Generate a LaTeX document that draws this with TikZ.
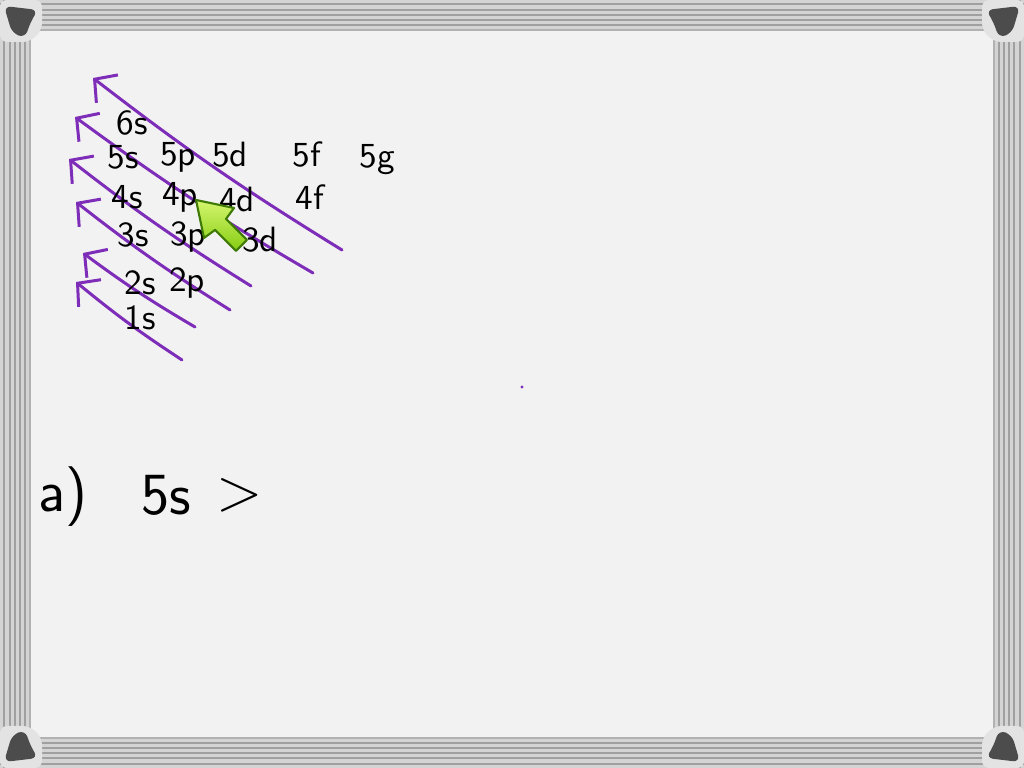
\documentclass[tikz,border=0pt]{standalone}
\usepackage[HTML]{xcolor}
\usetikzlibrary{arrows.meta}

\definecolor{ink}{HTML}{7E2DB8}
\definecolor{board}{HTML}{F2F2F2}
\definecolor{rail}{HTML}{D4D4D4}
\definecolor{groove}{HTML}{A0A0A0}
\definecolor{knob}{HTML}{4C4C4C}
\definecolor{limetop}{HTML}{D4F66E}
\definecolor{limebot}{HTML}{86CC12}
\definecolor{limedark}{HTML}{3F7A06}

\begin{document}
\begin{tikzpicture}[x=0.01cm, y=-0.01cm,
  orb/.style={font=\sffamily\fontsize{10}{12}\selectfont, inner sep=0pt},
  big/.style={font=\sffamily\fontsize{17}{20}\selectfont, inner sep=0pt},
  trail/.style={ink, line width=0.85pt, line cap=round, -{Straight Barb[length=4.5pt, width=10pt]}},
  stripe/.style={groove, line width=0.5pt}]
\useasboundingbox (0,0) rectangle (1024,768);

% frame with grooves
\fill[rail] (0,0) rectangle (1024,768);
\foreach \d in {4,10,15,20,25} {
  \draw[stripe] (0,\d) -- (1024,\d);
  \draw[stripe] (0,768-\d) -- (1024,768-\d);
  \draw[stripe] (\d,0) -- (\d,768);
  \draw[stripe] (1024-\d,0) -- (1024-\d,768);
}
\fill[board] (30,30) rectangle (994,738);
\draw[gray!60, line width=0.4pt] (30,30) rectangle (994,738);

% corner pieces
\foreach \sx/\sy/\dx/\dy in {1/1/0/0, -1/1/1024/0, 1/-1/0/768, -1/-1/1024/768} {
  \begin{scope}[shift={(\dx,\dy)}, xscale=\sx, yscale=\sy]
    \fill[gray!22, rounded corners=2pt] (0,0) -- (42,0) -- (42,30) -- (30,42) -- (0,42) -- cycle;
    \fill[knob, rounded corners=2pt] (4,6) -- (38,10) -- (31,21) -- (25,38) -- (12,33) -- cycle;
  \end{scope}
}

% diagonal trails
\foreach \xa/\ya/\xb/\yb in {93/78/342/250, 75/117/313/273, 69/159/251/286,
                             76/202/230/310, 83/253/195/327, 76/282/182/360}
  \draw[trail] (\xb,\yb) to[bend left=3] (\xa,\ya);

% orbitals
\foreach \n/\x/\y in {6s/132/123,
                      5s/123/157, 5p/178/157, 5d/230/155, 5f/307/155, 5g/377/160,
                      4s/127/197, 4p/180/197, 4d/237/200, 4f/310/197,
                      3s/133/235, 3p/188/237, 3d/260/240,
                      2s/140/283, 2p/187/283,
                      1s/140/318}
  \node[orb] (o\n) at (\x,\y) {\n};

% pointer
\shade[top color=limetop, bottom color=limebot, draw=limedark, line width=0.6pt, line join=round]
  (196,200) -- (234,208) -- (226,219) -- (247,240) -- (236,251) -- (215,230) -- (204,238) -- cycle;

% stray dot
\fill[ink] (522,387) circle (1.6);

% part a
\node[big] (qa) at (63,497) {a)};
\node[big] (q5s) at (166,495) {5s};
\node[big] (qgt) at (240,495) {$>$};
\end{tikzpicture}
\end{document}
